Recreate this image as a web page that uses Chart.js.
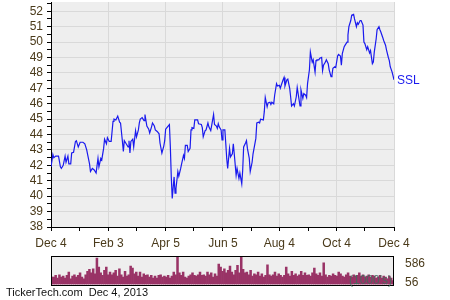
<!DOCTYPE html>
<html lang="en">
<head>
  <meta charset="UTF-8">
  <title>SSL</title>
  <script src="https://cdn.jsdelivr.net/npm/chart.js"></script>
  <style>
    body { margin: 0; background: #fff; font-family: 'Liberation Sans', Arial, sans-serif; }
    #wrap { position: relative; width: 450px; height: 300px; }
    #price { position: absolute; left: 0; top: 0; }
    #vol { position: absolute; left: 0; top: 250px; }
    #foot { position: absolute; left: 6px; top: 286px; font-size: 11px; line-height: 13px; color: #111; white-space: pre; }
  </style>
</head>
<body>
<div id="wrap">
  <canvas id="price" width="450" height="250"></canvas>
  <canvas id="vol" width="450" height="40"></canvas>
  <div id="foot">TickerTech.com  Dec 4, 2013</div>
</div>
<script>
  // days since Dec 4 2012 and closing prices
  const days = [0,2,3,5,8,10,11,13,15,16,18,19,21,22,24,26,27,29,31,34,36,38,39,41,42,44,46,48,50,51,53,54,56,57,59,60,62,64,66,67,69,71,73,74,76,77,78,80,82,83,84,85,87,88,90,91,93,94,95,97,99,100,102,104,105,107,108,110,111,113,115,116,118,120,121,122,124,126,127,128,129,131,132,133,135,136,138,139,141,142,143,145,146,148,149,150,152,153,156,157,160,161,162,164,165,167,168,170,171,173,174,176,177,178,179,181,182,183,185,186,187,188,190,191,193,194,195,197,198,200,201,203,204,205,207,208,209,211,212,214,215,216,218,219,221,222,223,226,227,228,230,231,233,234,235,237,238,240,241,243,244,245,247,248,249,251,252,254,255,256,258,259,261,262,264,265,266,268,269,271,272,273,275,276,278,279,281,282,283,285,286,288,289,290,292,293,295,296,298,299,300,302,303,305,306,308,309,310,312,313,315,316,317,319,320,322,323,325,326,327,329,330,332,333,334,336,337,339,340,342,343,344,346,347,349,350,351,353,354,356,357,359,360,361,363,364,365];
  const prices = [41.9,42.7,42.5,42.6,42.6,41.9,41.8,42.0,42.6,42.2,42.6,42.1,42.1,42.8,42.85,43.55,43.6,43.2,43.5,43.5,43.4,43.0,42.7,42.1,41.6,41.8,41.7,41.5,42.45,41.9,42.45,42.35,43.1,43.7,43.4,43.8,43.55,43.55,44.85,45.0,44.95,45.2,44.8,44.75,43.55,42.9,43.6,43.4,43.2,43.6,42.8,43.55,43.7,43.2,44.25,43.85,44.3,44.75,45.0,45.1,44.9,45.3,44.55,44.35,44.1,44.5,44.75,44.55,44.3,44.2,44.05,43.45,42.8,43.25,43.6,44.35,44.5,44.65,43.2,41.25,39.85,41.25,40.2,40.5,41.6,41.3,41.8,42.1,42.65,42.45,43.3,43.3,42.9,43.1,44.3,44.45,44.4,44.95,44.95,44.7,44.65,44.45,43.85,44.25,44.3,44.75,44.5,44.25,44.6,45.3,44.65,44.55,44.4,44.7,44.5,44.3,43.65,44.3,44.3,43.4,42.45,41.8,43.1,42.55,42.75,43.4,42.75,41.35,41.8,41.15,41.5,40.8,41.7,43.2,43.45,43.6,43.1,42.45,41.6,42.2,42.75,42.75,43.75,44.75,44.8,44.75,45.0,44.95,45.5,46.4,45.8,46.05,46.1,45.95,46.1,46.0,46.55,47.3,47.15,47.2,47.0,47.2,47.55,47.7,47.15,47.55,47.6,47.0,46.45,45.85,46.0,45.85,46.45,47.05,46.25,45.85,46.9,46.35,46.65,46.55,46.4,47.3,48.2,49.35,48.7,48.85,48.05,48.8,48.85,48.85,48.95,49.0,48.15,48.5,48.7,48.85,48.6,48.2,47.75,47.85,48.3,48.4,48.35,49.1,49.2,49.1,48.5,49.25,49.7,49.8,50.0,50.45,51.0,51.4,51.75,51.8,51.5,51.0,51.25,51.15,51.4,51.4,51.1,50.0,49.9,49.5,49.7,49.3,49.45,48.6,48.7,49.35,50.2,50.8,51.0,50.8,50.65,50.3,50.1,49.8,49.5,49.0,48.8,48.4,48.05,47.8,47.55];

  // x axis ticks (days) and their labels
  const xTickDays = [0, 61, 122, 183, 243, 304, 365];
  const xTickLabels = ['Dec 4', 'Feb 3', 'Apr 5', 'Jun 5', 'Aug 4', 'Oct 4', 'Dec 4'];
  const xMinorDays = [30, 91, 152, 213, 274, 334];
  const yTickValues = [38,39,40,41,42,43,44,45,46,47,48,49,50,51,52];

  // daily volume, thousands of shares
  const volume = [207,207,254,179,273,207,235,179,254,348,160,235,273,207,254,330,207,160,273,367,423,330,442,300,743,490,330,254,395,490,273,348,273,330,395,235,442,273,207,367,235,273,517,461,300,348,235,348,207,300,254,273,207,254,179,235,179,254,273,207,235,207,254,179,235,348,273,800,330,254,348,207,179,235,273,330,254,235,273,348,254,273,235,348,273,330,207,300,235,573,490,367,442,330,395,517,348,273,395,536,330,780,423,330,348,273,395,235,300,273,348,235,300,207,254,555,273,235,273,348,235,300,254,207,254,490,300,235,367,254,300,235,273,367,254,330,254,273,235,330,461,300,254,330,235,611,273,207,254,235,300,254,235,348,300,235,207,273,330,235,207,273,235,254,330,235,273,207,235,273,207,254,235,179,207,254,179,235,207,160,235,179,113];
  const volTicks = [56, 586];

  const FONT = { family: "'Liberation Sans', Arial, sans-serif", size: 12 };
  const TXT = '#4a3a1a';
  const GRID = '#d9d9d9';

  const bgPlugin = {
    id: 'bg',
    beforeDraw(chart) {
      const a = chart.chartArea, c = chart.ctx;
      c.save();
      c.fillStyle = '#eeeeee';
      c.fillRect(a.left, a.top, a.right - a.left, a.bottom - a.top);
      c.restore();
    }
  };

  const tagPlugin = {
    id: 'tag',
    afterDatasetsDraw(chart) {
      const pts = chart.getDatasetMeta(0).data;
      const last = pts[pts.length - 1];
      const c = chart.ctx;
      c.save();
      c.font = "12px 'Liberation Sans', Arial, sans-serif";
      c.fillStyle = '#1a1aee';
      c.textBaseline = 'middle';
      c.fillText('SSL', last.x + 3, last.y + 1);
      c.restore();
    }
  };

  new Chart(document.getElementById('price'), {
    type: 'line',
    data: {
      datasets: [{
        data: days.map((d, i) => ({ x: d, y: prices[i] })),
        borderColor: '#1a1aee',
        borderWidth: 1.2,
        pointRadius: 0,
        tension: 0
      }]
    },
    options: {
      responsive: false,
      animation: false,
      devicePixelRatio: 1,
      layout: { padding: { top: 2, right: 56, left: 0, bottom: 0 } },
      plugins: { legend: { display: false }, tooltip: { enabled: false } },
      scales: {
        x: {
          type: 'linear',
          min: 0,
          max: 365,
          afterBuildTicks: s => { s.ticks = xTickDays.concat(xMinorDays).sort((a, b) => a - b).map(v => ({ value: v })); },
          afterFit: s => { s.height = 23; s.paddingLeft = 0; s.paddingRight = 0; },
          border: { color: '#000', width: 1 },
          grid: {
            color: ctx => xTickDays.includes(ctx.tick.value) ? GRID : 'rgba(0,0,0,0)',
            tickColor: '#000',
            tickLength: 4
          },
          ticks: {
            autoSkip: false,
            maxRotation: 0,
            padding: 5,
            color: TXT,
            font: FONT,
            callback: v => { const i = xTickDays.indexOf(v); return i >= 0 ? xTickLabels[i] : ''; }
          }
        },
        y: {
          min: 38,
          max: 52.6,
          afterBuildTicks: s => {
            const t = [];
            yTickValues.forEach(v => { t.push({ value: v }); t.push({ value: v + 0.5 }); });
            s.ticks = t;
          },
          afterFit: s => { s.width = 51; s.paddingTop = 0; s.paddingBottom = 0; },
          border: { color: '#000', width: 1 },
          grid: {
            color: ctx => (Number.isInteger(ctx.tick.value) && ctx.tick.value > 38) ? GRID : 'rgba(0,0,0,0)',
            tickColor: '#000',
            tickLength: 4
          },
          ticks: {
            autoSkip: false,
            padding: 4,
            color: TXT,
            font: FONT,
            callback: v => Number.isInteger(v) ? String(v) : ''
          }
        }
      }
    },
    plugins: [bgPlugin, tagPlugin]
  });

  const framePlugin = {
    id: 'frame',
    afterDraw(chart) {
      const a = chart.chartArea, c = chart.ctx;
      c.save();
      c.strokeStyle = '#000';
      c.lineWidth = 1;
      c.strokeRect(Math.round(a.left) + 0.5, Math.round(a.top) + 0.5, Math.round(a.right - a.left) - 1, Math.round(a.bottom - a.top));
      c.font = "12px 'Liberation Sans', Arial, sans-serif";
      c.fillStyle = 'rgba(60,110,90,0.85)';
      c.textAlign = 'right';
      c.textBaseline = 'middle';
      c.fillText("(1000's)", a.right - 2, a.bottom - 4);
      c.restore();
    }
  };

  new Chart(document.getElementById('vol'), {
    type: 'bar',
    data: {
      labels: volume.map((_, i) => i),
      datasets: [{
        data: volume,
        backgroundColor: '#993366',
        borderWidth: 0,
        barPercentage: 1,
        categoryPercentage: 1
      }]
    },
    options: {
      responsive: false,
      animation: false,
      devicePixelRatio: 1,
      layout: { padding: { top: 6, right: 0, left: 51, bottom: 5.5 } },
      plugins: { legend: { display: false }, tooltip: { enabled: false } },
      scales: {
        x: { display: false },
        y: {
          position: 'right',
          min: 0,
          max: 800,
          afterBuildTicks: s => { s.ticks = volTicks.map(v => ({ value: v })); },
          afterFit: s => { s.width = 56; s.paddingTop = 0; s.paddingBottom = 0; },
          border: { display: false },
          grid: { display: false },
          ticks: { padding: 3, color: TXT, font: FONT, autoSkip: false }
        }
      }
    },
    plugins: [bgPlugin, framePlugin]
  });
</script>
</body>
</html>
